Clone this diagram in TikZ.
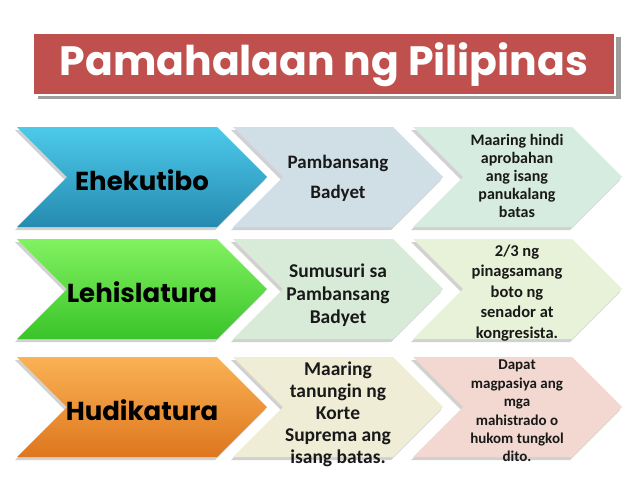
\documentclass[tikz,border=0pt]{standalone}
\usepackage{fontspec}
\setmainfont{Carlito}
\newfontfamily\headfont{Poppins}

\definecolor{banner}{RGB}{192,80,77}
\definecolor{ehetop}{RGB}{76,202,234}
\definecolor{ehebot}{RGB}{38,138,176}
\definecolor{lehtop}{RGB}{130,242,96}
\definecolor{lehbot}{RGB}{58,196,42}
\definecolor{hudtop}{RGB}{250,178,84}
\definecolor{hudbot}{RGB}{222,118,30}
\definecolor{ehemid}{RGB}{208,222,230}
\definecolor{eheend}{RGB}{214,236,224}
\definecolor{lehmid}{RGB}{216,235,216}
\definecolor{lehend}{RGB}{232,242,216}
\definecolor{hudmid}{RGB}{240,237,214}
\definecolor{hudend}{RGB}{242,216,208}

% x0, y0, width, look
\newcommand\chev[4]{%
  \fill[black!30, opacity=.6] (#1-2,#2+3) -- ++({#3-50},0) -- ++(50,50) -- ++(-50,50)
    -- ++({50-#3},0) -- ++(50,-50) -- cycle;
  \path[#4] (#1,#2) -- ++({#3-50},0) -- ++(50,50) -- ++(-50,50)
    -- ++({50-#3},0) -- ++(50,-50) -- cycle;}

\begin{document}
\begin{tikzpicture}[x=1pt, y=-1pt,
    title/.style={text=white, font=\headfont\bfseries\fontsize{41}{44}\selectfont},
    head/.style={text=black, font=\headfont\bfseries\fontsize{26}{28}\selectfont},
    body/.style={text=black!90, align=center, inner sep=0pt}]
  \useasboundingbox (0,0) rectangle (638,479);

  % banner
  \fill[black!38] (38,37) rectangle (621,99);
  \draw[white, line width=1.5pt, fill=banner] (33,33) rectangle (615,95);
  \node[title] (title) at (324,65) {Pamahalaan ng Pilipinas};

  % first row
  \chev{17}{127}{250}{top color=ehetop, bottom color=ehebot}
  \chev{233}{127}{210}{fill=ehemid}
  \chev{413}{127}{209}{fill=eheend}
  \node[head] (ehe) at (142,180) {Ehekutibo};
  \node[body, font=\bfseries\fontsize{19}{30}\selectfont] (ehebadyet) at (338,178)
    {Pambansang\\Badyet};
  \node[body, font=\bfseries\fontsize{16}{18.2}\selectfont] (ehebatas) at (517,176)
    {Maaring hindi\\aprobahan\\ang isang\\panukalang\\batas};

  % second row
  \chev{17}{239}{250}{top color=lehtop, bottom color=lehbot}
  \chev{233}{239}{210}{fill=lehmid}
  \chev{413}{239}{209}{fill=lehend}
  \node[head] (leh) at (142,292) {Lehislatura};
  \node[body, font=\bfseries\fontsize{19.5}{23}\selectfont] (lehbadyet) at (338,295)
    {Sumusuri sa\\Pambansang\\Badyet};
  \node[body, font=\bfseries\fontsize{16.5}{20.5}\selectfont] (lehboto) at (517,293)
    {2/3 ng\\pinagsamang\\boto ng\\senador at\\kongresista.};

  % third row
  \chev{17}{357}{250}{top color=hudtop, bottom color=hudbot}
  \chev{233}{357}{210}{fill=hudmid}
  \chev{413}{357}{209}{fill=hudend}
  \node[head] (hud) at (142,410) {Hudikatura};
  \node[body, font=\bfseries\fontsize{19.5}{22}\selectfont] (hudkorte) at (338,414)
    {Maaring\\tanungin ng\\Korte\\Suprema ang\\isang batas.};
  \node[body, font=\bfseries\fontsize{15}{18.4}\selectfont] (hudhukom) at (517,411)
    {Dapat\\magpasiya ang\\mga\\mahistrado o\\hukom tungkol\\dito.};
\end{tikzpicture}
\end{document}
